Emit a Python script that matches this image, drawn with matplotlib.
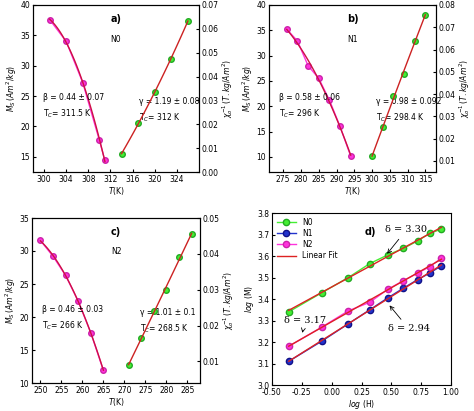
import numpy as np
import matplotlib.pyplot as plt

# panel data
a_tm = [301, 304, 307, 310, 311]
a_ms = [37.6, 34.0, 27.2, 17.7, 14.4]
a_tc = [314, 317, 320, 323, 326]
a_chi = [0.0075, 0.0205, 0.0335, 0.0475, 0.0635]

b_tm = [276, 279, 282, 285, 288, 291, 294]
b_ms = [35.2, 32.9, 28.0, 25.5, 21.2, 16.0, 10.1]
b_tc = [300, 303, 306, 309, 312, 315]
b_chi = [0.012, 0.025, 0.039, 0.049, 0.064, 0.0755]

c_tm = [250, 253, 256, 259, 262, 265]
c_ms = [31.6, 29.2, 26.3, 22.4, 17.6, 11.9]
c_tc = [271, 274, 277, 280, 283, 286]
c_chi = [0.009, 0.0165, 0.024, 0.030, 0.039, 0.0455]

log_h = [-0.36, -0.08, 0.14, 0.32, 0.47, 0.60, 0.72, 0.82, 0.92]
log_m_n0 = [3.34, 3.43, 3.50, 3.565, 3.605, 3.635, 3.67, 3.705, 3.725]
log_m_n1 = [3.11, 3.205, 3.285, 3.35, 3.405, 3.45, 3.49, 3.52, 3.555]
log_m_n2 = [3.18, 3.27, 3.345, 3.385, 3.445, 3.485, 3.52, 3.55, 3.59]

W, H = 474, 411
fig = plt.figure(figsize=(W / 100, H / 100), dpi=100)
plt.rcParams['font.size'] = 5.5
FS = 5.5

def box(l, r, t, b):
    return [l / W, 1 - b / H, (r - l) / W, (b - t) / H]

def panel(rect, tm, ms, tc, chi, xlim, xt, ylim, yt, y2lim, y2t, letter, name, beta, tcl, gam, tcr):
    ax = fig.add_axes(rect)
    ax2 = ax.twinx()
    p = np.polyfit(tm, ms, 2)
    xx = np.linspace(tm[0], tm[-1], 50)
    ax.plot(tm, ms, "-o", color="#ff33dd", ms=4, mec="#cc22aa", lw=1)
    ax.plot(xx, np.polyval(p, xx), color="#cc1144", lw=1)
    q = np.polyfit(tc, chi, 2)
    xx = np.linspace(tc[0], tc[-1], 50)
    ax2.plot(tc, chi, "o", color="#44ee33", ms=4, mec="#22aa22")
    ax2.plot(xx, np.polyval(q, xx), color="#cc2222", lw=1)
    ax.set_xlim(xlim); ax.set_xticks(xt)
    ax.set_ylim(ylim); ax.set_yticks(yt)
    ax2.set_ylim(y2lim); ax2.set_yticks(y2t)
    ax2.set_yticklabels(["%.2f" % v for v in y2t])
    ax.set_xlabel("$T$(K)", labelpad=1, fontsize=FS)
    ax.set_ylabel(r"$M_S\,(Am^2/kg)$", labelpad=1, fontsize=FS)
    ax2.set_ylabel(r"$\chi_o^{-1}\,(T.kg/Am^2)$", labelpad=1, fontsize=FS)
    for a in (ax, ax2):
        a.tick_params(direction="in", length=2.5, pad=2, labelsize=FS)
    ax.text(0.5, 0.9, letter, transform=ax.transAxes, ha="center", weight="bold", fontsize=7)
    ax.text(0.5, 0.78, name, transform=ax.transAxes, ha="center", fontsize=FS)
    ax.text(0.06, 0.33, beta + "\n" + r"T$_C$= " + tcl, transform=ax.transAxes, fontsize=FS, linespacing=1.6)
    ax.text(0.64, 0.31, gam + "\n" + r"T$_C$= " + tcr, transform=ax.transAxes, fontsize=FS, linespacing=1.6)

panel(box(33, 199, 5, 172), a_tm, a_ms, a_tc, a_chi, (298, 328), range(300, 325, 4),
      (12.5, 40), range(15, 41, 5), (0, 0.07), np.arange(0, 0.071, 0.01),
      "a)", "N0", "β = 0.44 ± 0.07", "311.5 K", "γ = 1.19 ± 0.08", "312 K")
panel(box(269, 436, 5, 172), b_tm, b_ms, b_tc, b_chi, (271, 318), range(275, 316, 5),
      (7, 40), range(10, 41, 5), (0.005, 0.08), np.arange(0.01, 0.081, 0.01),
      "b)", "N1", "β = 0.58 ± 0.06", "296 K", "γ = 0.98 ± 0.092", "298.4 K")
panel(box(32, 200, 218, 383), c_tm, c_ms, c_tc, c_chi, (248, 288), range(250, 286, 5),
      (10, 35), range(10, 36, 5), (0.004, 0.05), np.arange(0.01, 0.051, 0.01),
      "c)", "N2", "β = 0.46 ± 0.03", "266 K", "γ = 1.01 ± 0.1", "268.5 K")

ax = fig.add_axes(box(272, 451, 213, 385))
for y, c, ec, lab in [(log_m_n0, "#44ee33", "#22aa22", "N0"), (log_m_n1, "#2233cc", "#111188", "N1"),
                      (log_m_n2, "#ff33dd", "#cc22aa", "N2")]:
    ax.plot(log_h, y, "-o", color=c, mec=ec, ms=4.5, lw=1, label=lab)
for y in (log_m_n0, log_m_n1, log_m_n2):
    p = np.polyfit(log_h, y, 1)
    ax.plot(log_h, np.polyval(p, log_h), color="#dd2222", lw=1, label="Linear Fit" if y is log_m_n0 else None)
ax.set_xlim(-0.5, 1.0); ax.set_xticks(np.arange(-0.5, 1.01, 0.25))
ax.set_xticklabels(["%.2f" % v for v in np.arange(-0.5, 1.01, 0.25)])
ax.set_ylim(3.0, 3.8); ax.set_yticks(np.arange(3.0, 3.81, 0.1))
ax.set_yticklabels(["%.1f" % v for v in np.arange(3.0, 3.81, 0.1)])
ax.tick_params(direction="in", length=2.5, pad=2, labelsize=FS)
ax.set_xlabel("$log$ (H)", labelpad=1, fontsize=FS)
ax.set_ylabel("$log$ (M)", labelpad=1, fontsize=FS)
ax.legend(loc="upper left", frameon=False, fontsize=FS, handlelength=2.5, borderaxespad=0.2, labelspacing=0.3)
ax.text(0.28, 3.70, "d)", weight="bold", fontsize=7)
ax.annotate("δ = 3.30", xy=(0.45, 3.60), xytext=(0.45, 3.71), fontsize=7, family="serif",
            arrowprops=dict(arrowstyle="->", lw=0.6))
ax.annotate("δ = 3.17", xy=(-0.25, 3.23), xytext=(-0.4, 3.29), fontsize=7, family="serif",
            arrowprops=dict(arrowstyle="->", lw=0.6))
ax.annotate("δ = 2.94", xy=(0.47, 3.38), xytext=(0.47, 3.25), fontsize=7, family="serif",
            arrowprops=dict(arrowstyle="->", lw=0.6))

fig.savefig("out.png", dpi=100)
